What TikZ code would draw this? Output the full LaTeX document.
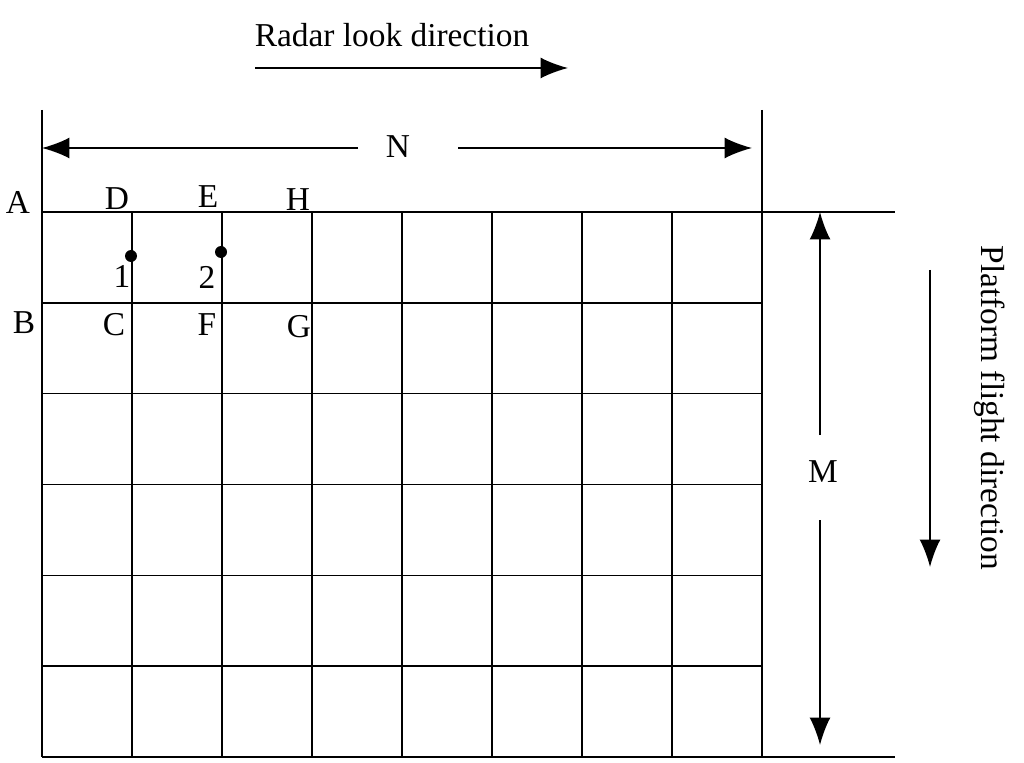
\documentclass[tikz,border=0pt]{standalone}
\usepackage{fontspec}
\setmainfont{Liberation Serif}
\usetikzlibrary{arrows.meta}
\tikzset{
  lbl/.style={font=\fontsize{19}{22}\selectfont, inner sep=0pt},
  bigarrow/.style={-{Latex[length=5.5mm, width=4.2mm]}, line width=1pt},
  gridline/.style={line width=0.8pt}
}
\begin{document}
\begin{tikzpicture}[x=0.02cm, y=-0.02cm]
    \useasboundingbox (0,0) rectangle (1024,763);

    % grid
    \foreach \i in {0,...,8}
        \draw [gridline] (42+90*\i,212) -- (42+90*\i,757);
    \foreach \j in {0,...,6}
        \draw [gridline] (42,212+90.83*\j) -- (762,212+90.83*\j);

    % radar look direction
    \node [lbl] (radar) at (392,35) {Radar look direction};
    \coordinate (r1) at (255,68);
    \coordinate (r2) at (568,68);
    \draw [bigarrow] (r1) -- (r2);

    % N
    \draw [gridline] (42,110) -- (42,212);
    \draw [gridline] (762,110) -- (762,212);
    \node [lbl] (N) at (398,147) {N};
    \coordinate (nl) at (42,148);
    \coordinate (nr) at (752,148);
    \draw [bigarrow] (358,148) -- (nl);
    \draw [bigarrow] (458,148) -- (nr);

    % M
    \draw [gridline] (762,212) -- (895,212);
    \draw [gridline] (762,757) -- (895,757);
    \node [lbl] (M) at (823,472) {M};
    \coordinate (mt) at (820,212);
    \coordinate (mb) at (820,745);
    \draw [bigarrow] (820,435) -- (mt);
    \draw [bigarrow] (820,520) -- (mb);

    % platform flight direction
    \node [lbl, rotate=-90] (flight) at (990,408) {Platform flight direction};
    \coordinate (f1) at (930,270);
    \coordinate (f2) at (930,567);
    \draw [bigarrow] (f1) -- (f2);

    % corner labels
    \node [lbl] (A) at (18,202) {A};
    \node [lbl] (D) at (117,199) {D};
    \node [lbl] (E) at (208,197) {E};
    \node [lbl] (H) at (298,200) {H};
    \node [lbl] (B) at (24,323) {B};
    \node [lbl] (C) at (114,325) {C};
    \node [lbl] (F) at (207,325) {F};
    \node [lbl] (G) at (299,327) {G};

    % points
    \fill (131,256) circle (6);
    \fill (221,252) circle (6);
    \node [lbl] (p1) at (122,276) {1};
    \node [lbl] (p2) at (207,277) {2};

\end{tikzpicture}
\end{document}
